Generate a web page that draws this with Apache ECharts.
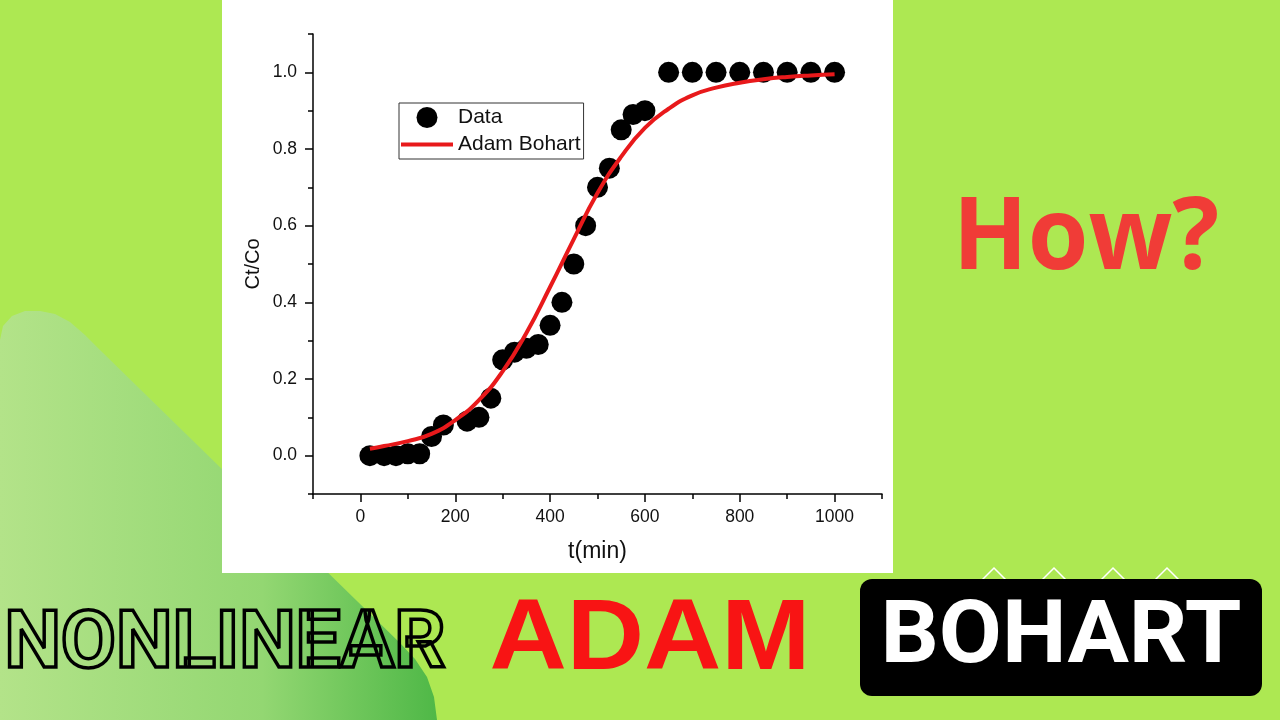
<!DOCTYPE html>
<html>
<head>
<meta charset="utf-8">
<script src="https://cdn.jsdelivr.net/npm/echarts@6/dist/echarts.min.js"></script>
<style>
html,body{margin:0;padding:0;width:1280px;height:720px;overflow:hidden;background:#ade852;}
#chart{width:1280px;height:720px;}
</style>
</head>
<body>
<div id="chart"></div>
<script>
// Measured data (Ct/Co vs time)
const dataTime = [20, 50, 75, 100, 125, 150, 175, 225, 250, 275, 300, 325, 350, 375, 400, 425, 450, 475, 500, 525, 550, 575, 600, 650, 700, 750, 800, 850, 900, 950, 1000];
const dataCtCo = [0.0, 0.0, 0.0, 0.005, 0.005, 0.05, 0.08, 0.09, 0.10, 0.15, 0.25, 0.27, 0.28, 0.29, 0.34, 0.40, 0.50, 0.60, 0.70, 0.75, 0.85, 0.89, 0.90, 1.0, 1.0, 1.0, 1.0, 1.0, 1.0, 1.0, 1.0];
// Adam Bohart fitted curve
const fitTime = [20, 50, 100, 150, 200, 250, 300, 350, 400, 450, 500, 550, 600, 650, 700, 750, 800, 850, 900, 950, 1000];
const fitCtCo = [0.018, 0.025, 0.038, 0.057, 0.093, 0.145, 0.22, 0.32, 0.44, 0.565, 0.685, 0.78, 0.855, 0.905, 0.94, 0.96, 0.973, 0.982, 0.988, 0.992, 0.995];
// Tick labels
const xMajorTicks = [0, 200, 400, 600, 800, 1000];
const xMinorTicks = [-100, 100, 300, 500, 700, 900, 1100];
const yMajorTicks = [0, 0.2, 0.4, 0.6, 0.8, 1.0];
const yMinorTicks = [-0.1, 0.1, 0.3, 0.5, 0.7, 0.9, 1.1];

const chart = echarts.init(document.getElementById('chart'), null, {renderer: 'canvas'});
const axisFont = 'Liberation Sans, Arial, sans-serif';

const option = {
  backgroundColor: '#ade852',
  animation: false,
  grid: {left: 313, top: 34, right: 398, bottom: 226, containLabel: false},
  legend: {
    orient: 'vertical',
    left: 399, top: 103,
    padding: [4, 3, 4, 0],
    itemGap: 6,
    itemWidth: 52,
    itemHeight: 21,
    backgroundColor: '#ffffff',
    borderColor: '#333',
    borderWidth: 1,
    borderRadius: 0,
    textStyle: {fontFamily: axisFont, fontSize: 21, color: '#111'},
    data: [
      {name: 'Data', icon: 'circle'},
      {name: 'Adam Bohart', itemStyle: {opacity: 0}, lineStyle: {width: 4, color: '#e8191b'}}
    ]
  },
  xAxis: [
    {
      type: 'value', min: -100, max: 1100, interval: 100,
      position: 'bottom',
      name: 't(min)', nameLocation: 'middle', nameGap: 46,
      nameTextStyle: {fontFamily: axisFont, fontSize: 23, color: '#111'},
      axisLine: {show: true, onZero: false, lineStyle: {color: '#000', width: 1.5}},
      axisTick: {show: true, inside: false, length: 8, customValues: xMajorTicks, lineStyle: {color: '#000', width: 1.5}},
      axisLabel: {show: true, margin: 14, customValues: xMajorTicks, fontFamily: axisFont, fontSize: 17.5, color: '#111',
        formatter: v => String(v)},
      splitLine: {show: false}
    },
    {
      type: 'value', min: -100, max: 1100, interval: 100,
      position: 'bottom', offset: 0,
      axisLine: {show: false, onZero: false},
      axisTick: {show: true, inside: false, length: 5, customValues: xMinorTicks, lineStyle: {color: '#000', width: 1.5}},
      axisLabel: {show: false},
      splitLine: {show: false}
    }
  ],
  yAxis: [
    {
      type: 'value', min: -0.1, max: 1.1, interval: 0.1,
      position: 'left',
      name: 'Ct/Co', nameLocation: 'middle', nameGap: 50,
      nameTextStyle: {fontFamily: axisFont, fontSize: 20, color: '#111'},
      axisLine: {show: true, onZero: false, lineStyle: {color: '#000', width: 1.5}},
      axisTick: {show: true, inside: false, length: 8, customValues: yMajorTicks, lineStyle: {color: '#000', width: 1.5}},
      axisLabel: {show: true, margin: 16, customValues: yMajorTicks, fontFamily: axisFont, fontSize: 17.5, color: '#111',
        formatter: v => v.toFixed(1)},
      splitLine: {show: false}
    },
    {
      type: 'value', min: -0.1, max: 1.1, interval: 0.1,
      position: 'left', offset: 0,
      axisLine: {show: false, onZero: false},
      axisTick: {show: true, inside: false, length: 5, customValues: yMinorTicks, lineStyle: {color: '#000', width: 1.5}},
      axisLabel: {show: false},
      splitLine: {show: false}
    }
  ],
  series: [
    {
      name: 'Data', type: 'scatter', xAxisIndex: 0, yAxisIndex: 0,
      symbol: 'circle', symbolSize: 21,
      itemStyle: {color: '#000', opacity: 1},
      data: dataTime.map((t, i) => [t, dataCtCo[i]]),
      z: 3
    },
    {
      name: 'Adam Bohart', type: 'line', xAxisIndex: 0, yAxisIndex: 0,
      smooth: true, showSymbol: false, symbol: 'none',
      lineStyle: {color: '#e8191b', width: 4},
      itemStyle: {color: '#e8191b'},
      data: fitTime.map((t, i) => [t, fitCtCo[i]]),
      z: 4
    }
  ],
  graphic: [
    {
      type: 'polygon', z: -20, silent: true,
      shape: {points: [[0,720],[0,340],[3,326],[12,316],[25,311],[40,311],[55,314],[70,322],[85,335],[100,350],[400,643],[415,659],[427,677],[434,697],[437,720]]},
      style: {
        fill: {type: 'linear', x: 0, y: 0, x2: 1, y2: 0, colorStops: [
          {offset: 0, color: '#b3e389'},
          {offset: 0.6, color: '#93d772'},
          {offset: 1, color: '#4fb847'}
        ]}
      }
    },
    {
      type: 'rect', z: -10, silent: true,
      shape: {x: 222, y: 0, width: 671, height: 573},
      style: {fill: '#ffffff'}
    },
    {
      type: 'text', z: 50, silent: true,
      x: 1086, y: 241, scaleX: 0.98,
      style: {text: 'How?', fill: '#f03c37', font: 'bold 100px "Open Sans", sans-serif', align: 'center', verticalAlign: 'middle'}
    },
    {
      type: 'text', z: 50, silent: true,
      x: 225, y: 647,
      style: {text: 'NONLINEAR', fill: 'rgba(0,0,0,0)', stroke: '#000', lineWidth: 3.5, font: 'bold 80px Roboto, sans-serif', align: 'center', verticalAlign: 'middle'}
    },
    {
      type: 'text', z: 50, silent: true,
      x: 650, y: 641, scaleX: 1.07,
      style: {text: 'ADAM', fill: '#f81414', font: 'bold 100px "Liberation Sans", Arial, sans-serif', align: 'center', verticalAlign: 'middle'}
    },
    {
      type: 'polyline', z: 40, silent: true,
      shape: {points: [[982, 580], [994, 568], [1006, 580]]},
      style: {stroke: '#ffffff', lineWidth: 1.5, fill: null}
    },
    {
      type: 'polyline', z: 40, silent: true,
      shape: {points: [[1042, 580], [1054, 568], [1066, 580]]},
      style: {stroke: '#ffffff', lineWidth: 1.5, fill: null}
    },
    {
      type: 'polyline', z: 40, silent: true,
      shape: {points: [[1101, 580], [1113, 568], [1125, 580]]},
      style: {stroke: '#ffffff', lineWidth: 1.5, fill: null}
    },
    {
      type: 'polyline', z: 40, silent: true,
      shape: {points: [[1155, 580], [1167, 568], [1179, 580]]},
      style: {stroke: '#ffffff', lineWidth: 1.5, fill: null}
    },
    {
      type: 'rect', z: 45, silent: true,
      shape: {x: 860, y: 579, width: 402, height: 117, r: 12},
      style: {fill: '#000000'}
    },
    {
      type: 'text', z: 50, silent: true,
      x: 1061, y: 640, scaleX: 1.04,
      style: {text: 'BOHART', fill: '#ffffff', font: 'bold 88px Roboto, sans-serif', align: 'center', verticalAlign: 'middle'}
    }
  ]
};
chart.setOption(option);
</script>
</body>
</html>
